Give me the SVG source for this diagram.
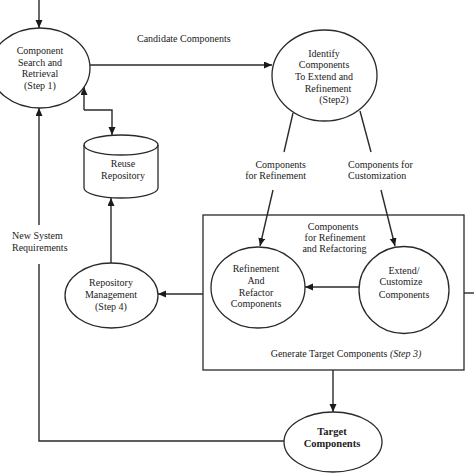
<svg xmlns="http://www.w3.org/2000/svg" width="474" height="474" viewBox="0 0 474 474">
<style>
  .shape{fill:#fff;stroke:#2a2a2a;stroke-width:1.3}
  .ln{fill:none;stroke:#2a2a2a;stroke-width:1.4}
  .arr{marker-end:url(#ah)}
  text{font-family:"Liberation Serif","Times New Roman",serif;font-size:10px;fill:#222}
  .c{text-anchor:middle}
  .e{text-anchor:end}
  .b{font-weight:bold;font-size:10.5px}
</style>
<defs>
  <marker id="ah" markerUnits="userSpaceOnUse" markerWidth="9" markerHeight="8" refX="8" refY="3.5" orient="auto">
    <path d="M0,0 L8,3.5 L0,7 z" fill="#1a1a1a"/>
  </marker>
</defs>
<rect width="474" height="474" fill="#fff"/>

<g id="step3-box">
  <rect class="shape" x="203" y="215" width="261" height="155" fill="none"/>
  <text class="c" x="346" y="357">Generate Target Components <tspan font-style="italic">(Step 3)</tspan></text>
</g>

<g id="connectors">
  <line class="ln arr" x1="39" y1="0" x2="39" y2="28"/>
  <line class="ln arr" x1="90" y1="65" x2="272" y2="65"/>
  <line class="ln" x1="293" y1="113" x2="284" y2="152"/>
  <line class="ln arr" x1="273" y1="190" x2="260" y2="246"/>
  <line class="ln" x1="360" y1="111" x2="371" y2="152"/>
  <line class="ln arr" x1="381" y1="190" x2="395" y2="246"/>
  <line class="ln arr" x1="359" y1="287" x2="305" y2="287"/>
  <line class="ln arr" x1="203" y1="294" x2="158" y2="294"/>
  <line class="ln arr" x1="111" y1="263" x2="111" y2="198"/>
  <path class="ln arr" d="M84,110 L84,87"/>
  <path class="ln arr" d="M84,110 L112,110 L112,135"/>
  <line class="ln arr" x1="333" y1="370" x2="333" y2="412"/>
  <path class="ln" d="M284,441 L39,441 L39,264"/>
  <line class="ln arr" x1="39" y1="225" x2="39" y2="108"/>
  <line class="ln" x1="464" y1="293" x2="474" y2="293"/>
</g>

<g id="label-candidate">
  <text x="137" y="42">Candidate Components</text>
</g>
<g id="label-for-refinement">
  <text class="e" x="306" y="167.5">Components</text>
  <text class="e" x="306" y="178.5">for Refinement</text>
</g>
<g id="label-for-customization">
  <text x="348" y="167.5">Components for</text>
  <text x="348" y="178.5">Customization</text>
</g>
<g id="label-refine-refactor">
  <text class="c" x="333" y="229.5">Components</text>
  <text class="c" x="335" y="240.5">for Refinement</text>
  <text class="c" x="334.5" y="251.5">and Refactoring</text>
</g>
<g id="label-new-system">
  <text x="12" y="239">New System</text>
  <text x="12" y="251">Requirements</text>
</g>

<g id="step1">
  <ellipse class="shape" cx="40" cy="68" rx="50" ry="40"/>
  <text class="c" x="40" y="53.5">Component</text>
  <text class="c" x="40" y="65.5">Search and</text>
  <text class="c" x="40" y="77">Retrieval</text>
  <text class="c" x="40" y="88.5">(Step 1)</text>
</g>

<g id="step2">
  <ellipse class="shape" cx="324.5" cy="75.5" rx="52.5" ry="45.5"/>
  <text class="c" x="324" y="56.5">Identify</text>
  <text class="c" x="324" y="67.5">Components</text>
  <text class="c" x="324" y="79.5">To Extend and</text>
  <text class="c" x="328" y="91.5">Refinement</text>
  <text class="c" x="334" y="102.5">(Step2)</text>
</g>

<g id="reuse-repository">
  <path class="shape" d="M84,145 A37,10 0 0 1 158,145 L158,188 A37,10 0 0 1 84,188 Z"/>
  <path class="ln" d="M84,145 A37,10 0 0 0 158,145"/>
  <text class="c" x="123" y="166.5">Reuse</text>
  <text class="c" x="123" y="178.5">Repository</text>
</g>

<g id="step4">
  <ellipse class="shape" cx="111.5" cy="295.5" rx="46.5" ry="32.5"/>
  <text class="c" x="111" y="285.5">Repository</text>
  <text class="c" x="111" y="297.5">Management</text>
  <text class="c" x="111" y="309.5">(Step 4)</text>
</g>

<g id="refine-refactor">
  <ellipse class="shape" cx="258" cy="287.5" rx="47" ry="40.5"/>
  <text class="c" x="256" y="271.5">Refinement</text>
  <text class="c" x="256" y="283.5">And</text>
  <text class="c" x="256" y="295.5">Refactor</text>
  <text class="c" x="256" y="306.5">Components</text>
</g>

<g id="extend-customize">
  <ellipse class="shape" cx="404" cy="290" rx="45" ry="43.5"/>
  <text class="c" x="404" y="273.5">Extend/</text>
  <text class="c" x="401" y="285">Customize</text>
  <text class="c" x="404" y="297.5">Components</text>
</g>

<g id="target">
  <ellipse class="shape" cx="333" cy="442" rx="49" ry="30"/>
  <text class="c b" x="332" y="434.5">Target</text>
  <text class="c b" x="332" y="446.5">Components</text>
</g>
</svg>
